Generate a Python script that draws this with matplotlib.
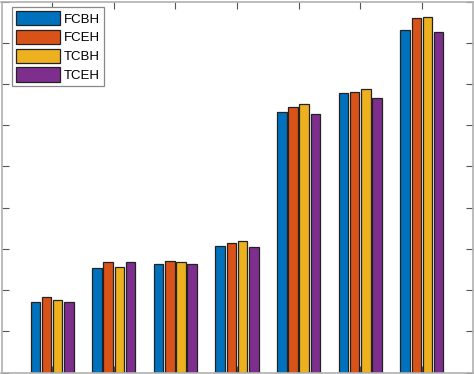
import numpy as np
import matplotlib
matplotlib.use("Agg")
import matplotlib.pyplot as plt

plt.rcParams['font.family'] = ['Liberation Sans', 'DejaVu Sans']

# values (unit = one y tick interval)
groups = [1, 2, 3, 4, 5, 6, 7]
series = ["FCBH", "FCEH", "TCBH", "TCEH"]
fcbh = [1.71, 2.54, 2.64, 3.08, 6.31, 6.78, 8.31]
fceh = [1.82, 2.67, 2.70, 3.13, 6.44, 6.80, 8.60]
tcbh = [1.75, 2.55, 2.69, 3.20, 6.51, 6.88, 8.63]
tceh = [1.71, 2.68, 2.63, 3.05, 6.28, 6.67, 8.26]
colors = ["#0072BD", "#D95319", "#EDB120", "#7E2F8E"]

W, H = 474, 374
fig = plt.figure(figsize=(W / 100, H / 100), dpi=100)
ax = fig.add_axes([1.5 / W, 1.5 / H, 471 / W, 371 / H])

x = np.array(groups, dtype=float)
step = 0.181
for i, (vals, name, c) in enumerate(zip([fcbh, fceh, tcbh, tceh], series, colors)):
    ax.bar(x + (i - 1.5) * step, vals, width=0.155, color=c, label=name,
           edgecolor="#222222", linewidth=0.9, zorder=2)

ax.set_xlim(0.18, 7.82)
ax.set_ylim(0, 8.93)
ax.set_xticks(groups)
ax.set_yticks(range(0, 10))
ax.set_xticklabels([])
ax.set_yticklabels([])
ax.tick_params(direction="in", length=5, width=0.8, color="#555555",
               top=True, right=True, bottom=True, left=True)
for s in ax.spines.values():
    s.set_color("#b0b0b0")
    s.set_linewidth(1.2)

leg = ax.legend(loc="upper left", bbox_to_anchor=(10.5 / 471, 1 - 5.5 / 371),
                borderaxespad=0, fontsize=9.5, handlelength=3.3, handleheight=1.3,
                labelspacing=0.32, handletextpad=0.3, borderpad=0.3,
                fancybox=False, framealpha=1, edgecolor="#888888")
leg.get_frame().set_linewidth(0.9)

fig.savefig("out.png", dpi=100)
